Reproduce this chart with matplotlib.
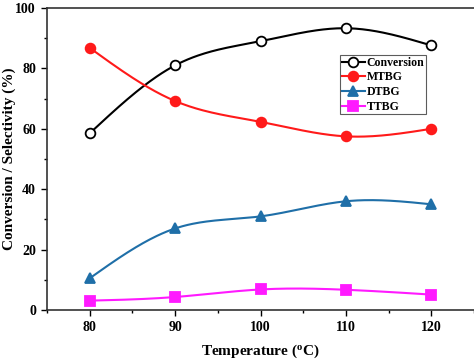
import numpy as np
import matplotlib
matplotlib.use("Agg")
import matplotlib.pyplot as plt
from matplotlib.ticker import MultipleLocator

temperature = [80, 90, 100, 110, 120]
conversion = [58.5, 81.0, 89.0, 93.3, 87.6]
mtbg = [86.8, 69.2, 62.3, 57.5, 60.0]
dtbg = [10.5, 27.0, 31.0, 36.0, 35.0]
ttbg = [3.1, 4.3, 6.8, 6.7, 5.1]

plt.rcParams['font.family'] = ['Liberation Serif', 'DejaVu Serif']
plt.rcParams['font.weight'] = 'bold'
plt.rcParams['mathtext.fontset'] = 'custom'
plt.rcParams['mathtext.bf'] = 'Liberation Serif:bold'
plt.rcParams['mathtext.rm'] = 'Liberation Serif:bold'


def smooth(x, y, n=200):
    # natural cubic spline through the data points (rendering only)
    x = np.asarray(x, float); y = np.asarray(y, float)
    m = len(x); h = np.diff(x)
    A = np.zeros((m, m)); b = np.zeros(m)
    A[0, 0] = A[-1, -1] = 1
    for i in range(1, m - 1):
        A[i, i - 1] = h[i - 1]; A[i, i] = 2 * (h[i - 1] + h[i]); A[i, i + 1] = h[i]
        b[i] = 3 * ((y[i + 1] - y[i]) / h[i] - (y[i] - y[i - 1]) / h[i - 1])
    c = np.linalg.solve(A, b)
    xs = np.linspace(x[0], x[-1], n); ys = np.empty_like(xs)
    for k, xv in enumerate(xs):
        i = min(np.searchsorted(x, xv, side='right') - 1, m - 2)
        d = xv - x[i]
        bb = (y[i + 1] - y[i]) / h[i] - h[i] * (2 * c[i] + c[i + 1]) / 3
        dd = (c[i + 1] - c[i]) / (3 * h[i])
        ys[k] = y[i] + bb * d + c[i] * d ** 2 + dd * d ** 3
    return xs, ys


fig = plt.figure(figsize=(4.74, 3.6), dpi=100)
ax = fig.add_axes([47 / 474, 50 / 360, 427 / 474, 302 / 360])

series = [
    ("Conversion", conversion, 'black', 'o', 'white'),
    ("MTBG", mtbg, '#ff1a1a', 'o', '#ff1a1a'),
    ("DTBG", dtbg, '#1f6fa8', '^', '#1f6fa8'),
    ("TTBG", ttbg, '#ff1aff', 's', '#ff1aff'),
]
for name, vals, col, mk, fc in series:
    xs, ys = smooth(temperature, vals)
    ax.plot(xs, ys, color=col, lw=1.5, zorder=2)
    ax.plot(temperature, vals, ls='none', marker=mk, ms=7, mfc=fc, mec=col,
            mew=1.3, zorder=3)
    ax.plot([], [], color=col, lw=1.5, marker=mk, ms=7, mfc=fc, mec=col,
            mew=1.3, label=name)

ax.set_xlim(75, 125)
ax.set_ylim(0, 100)
ax.xaxis.set_minor_locator(MultipleLocator(5))
ax.yaxis.set_major_locator(MultipleLocator(20))
ax.yaxis.set_minor_locator(MultipleLocator(10))
ax.set_xticks([80, 90, 100, 110, 120])
ax.tick_params(which='major', direction='out', length=4, width=1, labelsize=10, pad=4)
ax.tick_params(which='minor', direction='out', length=2.5, width=1)
for lbl in ax.get_xticklabels() + ax.get_yticklabels():
    lbl.set_fontweight('bold')
ax.spines['right'].set_visible(False)
for s in ['left', 'bottom', 'top']:
    ax.spines[s].set_linewidth(1.2)
    ax.spines[s].set_color('#333333')

ax.set_xlabel('Temperature ($\\mathbf{^{o}}$C)', fontsize=11, fontweight='bold', labelpad=6)
ax.set_ylabel('Conversion / Selectivity (%)', fontsize=11, fontweight='bold')
ax.yaxis.set_label_coords(-0.072, 0.5)

leg = ax.legend(loc='upper left', bbox_to_anchor=(0.686, 0.844), fontsize=8.5,
                frameon=True, fancybox=False, edgecolor='#333333',
                borderpad=0.15, labelspacing=0.22, handlelength=2.0,
                handletextpad=0.1, borderaxespad=0)
leg.get_frame().set_linewidth(0.8)
for t in leg.get_texts():
    t.set_fontweight('bold')

fig.savefig('out.png', dpi=100)
